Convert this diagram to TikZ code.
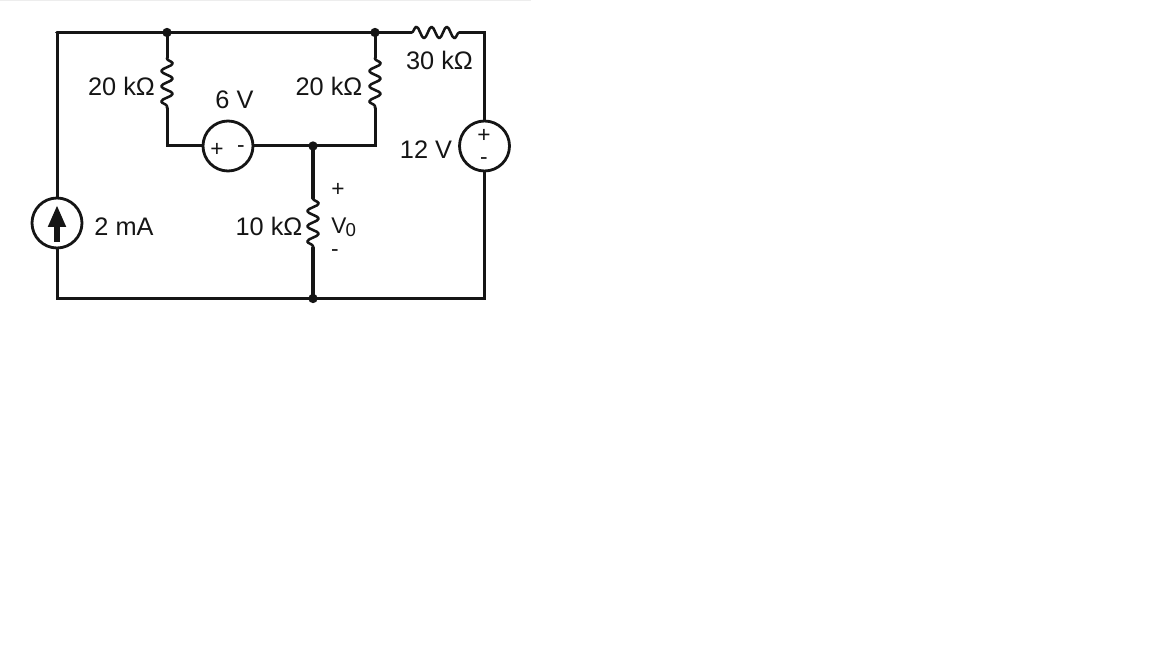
\documentclass[tikz,border=0pt]{standalone}
\usepackage{fontspec}
\setmainfont{Liberation Sans}
\usetikzlibrary{decorations.pathmorphing,arrows.meta}
\definecolor{ink}{HTML}{151515}
\tikzset{
  wire/.style={line width=2.25pt,line cap=round,line join=miter,color=ink},
  heavy/.style={wire,line width=2.8pt},
  src/.style={circle,draw=ink,line width=2.1pt,minimum size=37.5pt,inner sep=0pt,fill=white},
  dot/.style={circle,fill=ink,minimum size=7pt,inner sep=0pt},
  lbl/.style={text=ink,font=\fontsize{19}{20}\selectfont,inner sep=0pt,anchor=base},
  sign/.style={text=ink,font=\fontsize{17}{18}\selectfont,inner sep=0pt},
  resistor/.style={wire,line width=1.9pt,line join=round,decorate,decoration={snake,segment length=11.4pt,amplitude=4.3pt,pre length=0.5pt,post length=0.5pt}},
}
\begin{document}
\begin{tikzpicture}[x=0.75pt,y=-0.75pt]
\useasboundingbox (0,0) rectangle (1152,648);
\fill[white] (0,0) rectangle (1152,648);
\fill[black!7] (0,0) rectangle (531,1.5);
% corners and junctions
\coordinate (tl) at (57,32.5);
\coordinate (bl) at (57,298.5);
\coordinate (tr) at (484.5,32.5);
\coordinate (br) at (484.5,298.5);
\coordinate (l6) at (167,146);
\coordinate (r6) at (375,146);
\coordinate (r1t) at (167,58);
\coordinate (r1b) at (167,108);
\coordinate (r2t) at (375,58);
\coordinate (r2b) at (375,108);
\coordinate (r3t) at (313,198);
\coordinate (r3b) at (313,248);
\coordinate (r4l) at (411,32.5);
\coordinate (r4r) at (460,32.5);
\node[dot] (a) at (167,32.5) {};
\node[dot] (b) at (375,32.5) {};
\node[dot] (c) at (313,146) {};
\node[dot] (d) at (313,298.5) {};
% sources
\node[src] (s2) at (57,223) {};
\node[src] (s6) at (228,146) {};
\node[src] (s12) at (484.5,146) {};
% wires
\draw[wire] (s2.north) -- (tl);
\draw[heavy] (tl) -- (a.center) -- (b.center) -- (r4l);
\draw[wire] (r4r) -- (tr) -- (s12.north);
\draw[wire] (s12.south) -- (br) -- (d.center) -- (bl) -- (s2.south);
\draw[wire] (a.center) -- (r1t);
\draw[wire] (r1b) -- (l6) -- (s6.west);
\draw[wire] (s6.east) -- (c.center) -- (r6) -- (r2b);
\draw[wire] (r2t) -- (b.center);
\draw[heavy] (c.center) -- (r3t);
\draw[heavy] (r3b) -- (d.center);
% resistors
\draw[resistor] (r1t) -- (r1b);
\draw[resistor] (r2t) -- (r2b);
\draw[resistor] (r3t) -- (r3b);
\draw[resistor] (r4l) -- (r4r);
% current arrow
\coordinate (arrt) at (57,205);
\coordinate (arrb) at (57,242);
\draw[ink,line width=4.5pt,-{Triangle[length=16.5pt,width=12.5pt]}] (arrb) -- (arrt);
% labels
\node[lbl] (t1) at (121.5,96) {20 k\char"03A9};
\node[lbl] (t2) at (329,96) {20 k\char"03A9};
\node[lbl] (t3) at (439.5,70) {30 k\char"03A9};
\node[lbl] (t4) at (269,236) {10 k\char"03A9};
\node[lbl] (t5) at (234.5,109) {6 V};
\node[lbl] (t6) at (426,159) {12 V};
\node[lbl] (t7) at (124,236) {2 mA};
\node[lbl,anchor=base west,font=\fontsize{17}{18}\selectfont] (t8) at (331,234) {V\kern-0.5pt\raisebox{-2pt}{\fontsize{14}{15}\selectfont 0}};
\node[sign] (p1) at (338,190) {+};
\node[sign] (m1) at (335,253) {-};
\node[sign] (p6) at (217,150) {+};
\node[sign] (m6) at (241,149) {-};
\node[sign] (p12) at (484,136) {+};
\node[sign] (m12) at (484,161) {-};
\end{tikzpicture}
\end{document}
